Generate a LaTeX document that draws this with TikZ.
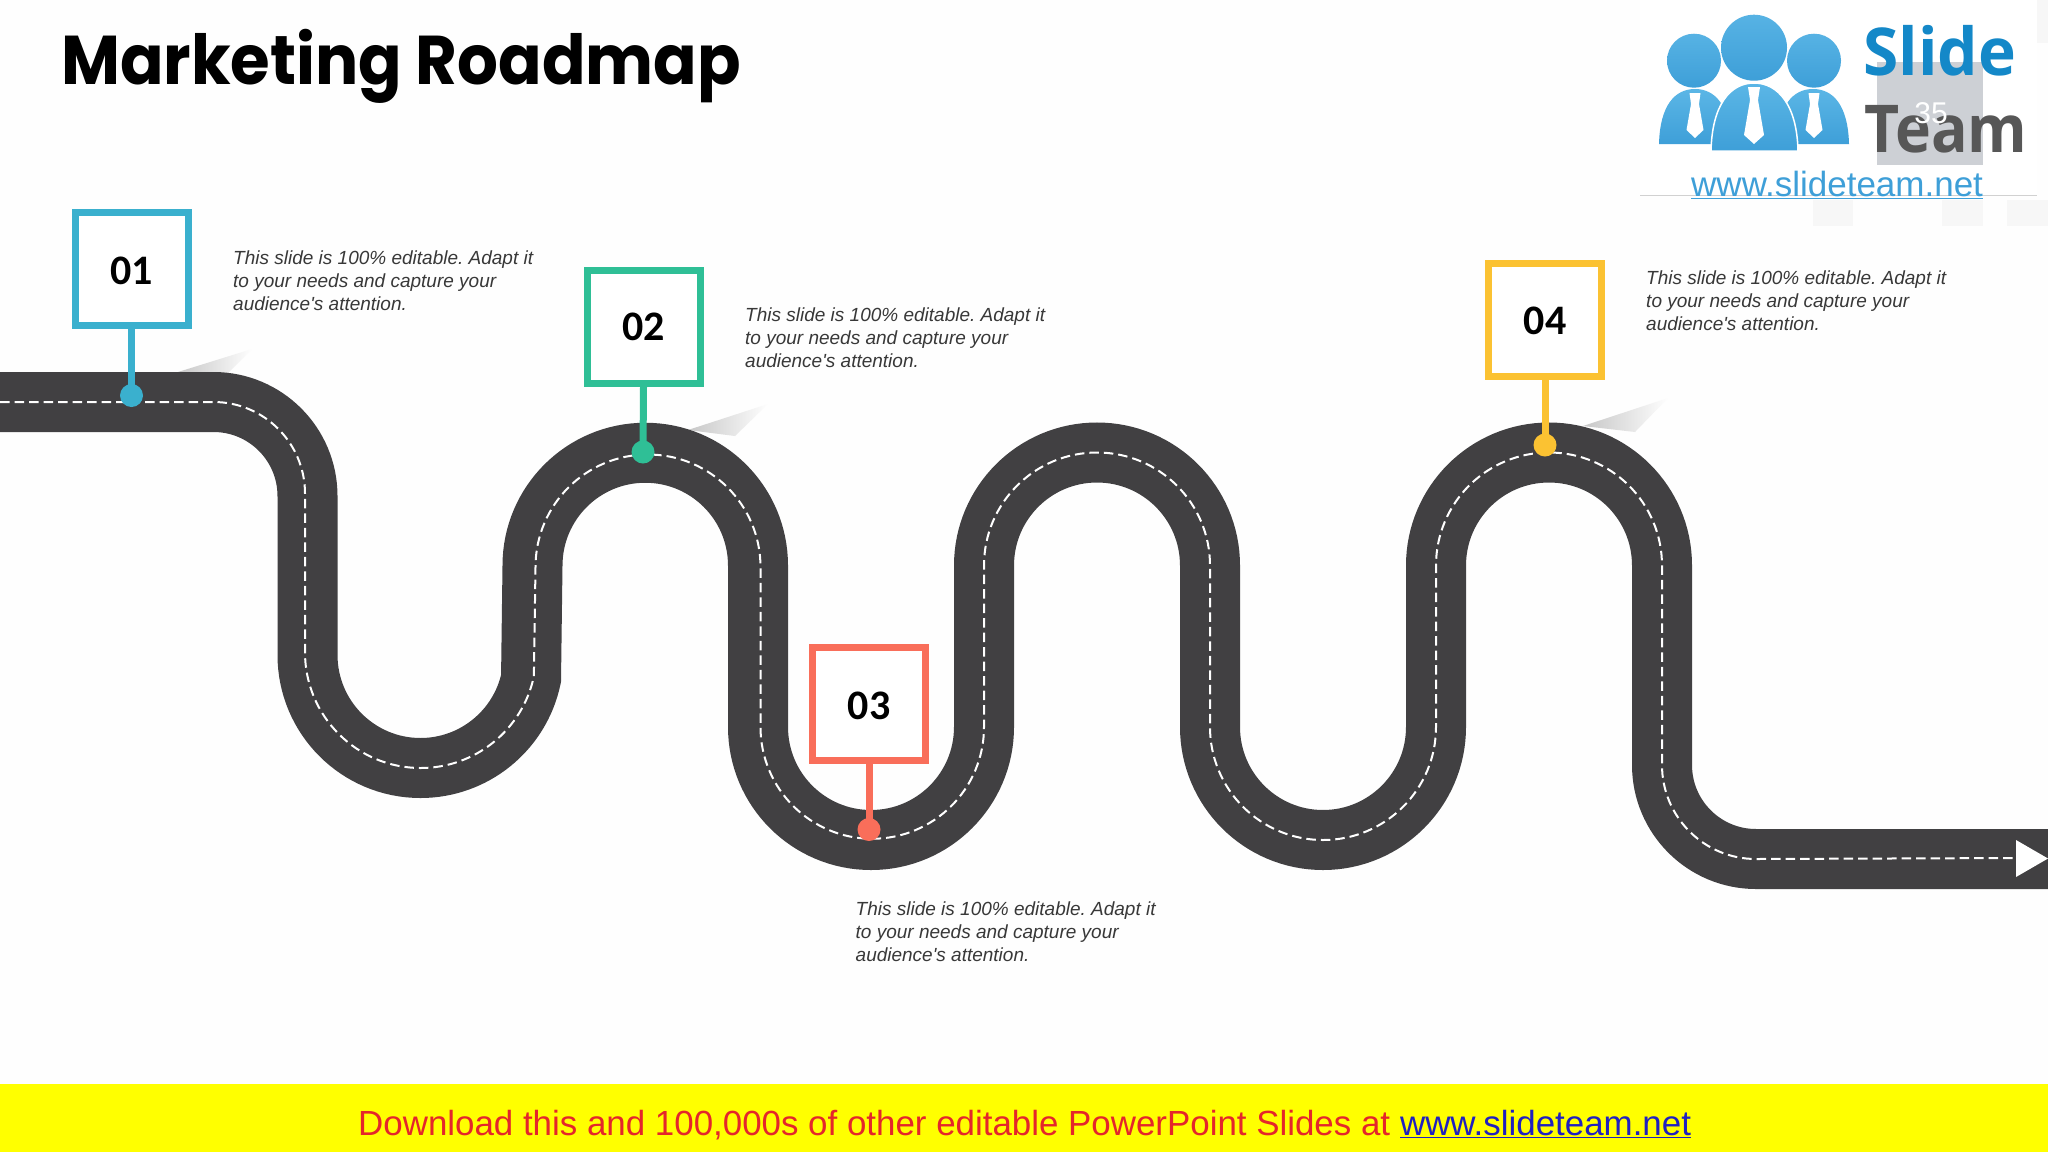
\documentclass[tikz,border=0pt]{standalone}
\usepackage{fontspec}
\setmainfont{Liberation Sans}
\newfontfamily\plainfont{Liberation Sans}
\newfontfamily\titlefont{Poppins}
\newfontfamily\numfont{Carlito}
\newfontfamily\logofont{Open Sans}
\definecolor{roadc}{HTML}{414042}
\definecolor{cblue}{HTML}{3AB0CE}
\definecolor{cgreen}{HTML}{2FBF96}
\definecolor{ccoral}{HTML}{F96E5A}
\definecolor{cyellow}{HTML}{FBC232}
\definecolor{logoa}{HTML}{5BB6E6}
\definecolor{logob}{HTML}{3E9FD8}
\definecolor{barc}{HTML}{FFFF00}
\definecolor{bgc}{HTML}{FEFEFE}
\definecolor{footred}{HTML}{E4262B}
\definecolor{footblue}{HTML}{2020C0}
\definecolor{squarec}{HTML}{CDD0D5}
\newcommand\roadpath{(0,402) -- (213.5,402) arc[start angle=90,end angle=0,radius=94pt] -- (307.5,655)
  arc[start angle=180,end angle=348,radius=113pt] -- (532.5,565.5)
  arc[start angle=180,end angle=0,radius=112.75pt] -- (758,727)
  arc[start angle=180,end angle=360,radius=113pt] -- (984,565.5)
  arc[start angle=180,end angle=0,radius=113pt] -- (1210,727)
  arc[start angle=180,end angle=360,radius=113pt] -- (1436,565.5)
  arc[start angle=180,end angle=0,radius=113pt] -- (1662,765)
  arc[start angle=180,end angle=270,radius=94pt]}
\newcommand\midpath{(0,402) -- (213.5,402) arc[start angle=90,end angle=0,radius=91.5pt] -- (305,652.3)
  arc[start angle=180,end angle=348,radius=115.7pt] -- (535.5,567)
  arc[start angle=180,end angle=0,radius=112.5pt] -- (760.5,727)
  arc[start angle=180,end angle=360,radius=111.75pt] -- (984,565.5)
  arc[start angle=180,end angle=0,radius=113pt] -- (1210,727)
  arc[start angle=180,end angle=360,radius=113pt] -- (1436,565.5)
  arc[start angle=180,end angle=0,radius=113pt] -- (1662,765)
  arc[start angle=180,end angle=270,radius=94pt]}
\newcommand\logotie[1]{\fill[white] (#1-5.5,93) -- (#1+5.5,93) -- (#1+4,104) -- (#1+8.5,130) -- (#1,138) -- (#1-8.5,130) -- (#1-4,104) -- cycle;}
\newcommand\blurbtext{This slide is 100\% editable. Adapt it\\to your needs and capture your\\audience's attention.}
\tikzset{
  x=1pt,y=-1pt,
  road/.style={draw=roadc,line width=60pt},
  midline/.style={draw=white,line width=2pt,dash pattern=on 9.5pt off 5pt},
  flagbox/.style={draw=#1,line width=7pt,fill=white,minimum size=113pt,inner sep=0pt,text depth=0pt,
    font=\numfont\bfseries\fontsize{42}{42}\selectfont,text=black},
  flagdot/.style={circle,fill=#1,minimum size=23pt,inner sep=0pt},
  stem/.style={draw=#1,line width=7pt},
  blurb/.style={anchor=north west,inner sep=0pt,align=left,text=black!78,
    font=\plainfont\itshape\frenchspacing\fontsize{19}{23}\selectfont},
  wedge/.style={left color=black!22,right color=bgc,draw=none},
  logohead/.style={top color=logoa!85!logob,bottom color=logob},
  logobody/.style={top color=logoa,bottom color=logob}
}
\begin{document}
\begin{tikzpicture}
\useasboundingbox (0,0) rectangle (2048,1152);
\fill[bgc] (0,0) rectangle (2048,1152);
% faint blocks around logo
\fill[black!3] (1813,200) rectangle (1853,226);
\fill[black!3] (1942,200) rectangle (1983,226);
\fill[black!3] (2007,200) rectangle (2048,226);
\fill[black!3] (2037,0) rectangle (2048,43);
% title
\node[anchor=base west,inner sep=0pt,font=\titlefont\bfseries\fontsize{69}{69}\selectfont] (title) at (61,84) {\scalebox{.93}[1]{Marketing Roadmap}};
% wedges
\shade[wedge] (178,372) -- (252,349) -- (225,376) -- cycle;
\shade[wedge] (688,430) -- (768,404) -- (735,436) -- cycle;
\shade[wedge] (1583,426) -- (1668,398) -- (1635,432) -- cycle;
% road
\draw[road] \roadpath -- (2048,859);
\draw[midline] \midpath -- (2020,858);
\fill[white] (2016,840) -- (2048,858.5) -- (2016,877) -- cycle;
% flags
\node[flagbox=cblue,text height=30pt] (b1) at (131.5,269) {01};
\node[flagdot=cblue] (d1) at (131.5,395.5) {};
\draw[stem=cblue] (b1.south) -- (d1.center);
\node[flagbox=cgreen,text height=27pt] (b2) at (643.5,326.5) {02};
\node[flagdot=cgreen] (d2) at (643,452) {};
\draw[stem=cgreen] (b2.south) -- (d2.center);
\node[flagbox=ccoral,text height=30pt] (b3) at (869,704) {03};
\node[flagdot=ccoral] (d3) at (869,829.5) {};
\draw[stem=ccoral] (b3.south) -- (d3.center);
\node[flagbox=cyellow,text height=28pt] (b4) at (1545,320) {04};
\node[flagdot=cyellow] (d4) at (1545,445) {};
\draw[stem=cyellow] (b4.south) -- (d4.center);
% text
\node[blurb] (t1) at (233,251) {\blurbtext};
\node[blurb] (t2) at (745,308) {\blurbtext};
\node[blurb] (t3) at (855.5,902) {\blurbtext};
\node[blurb] (t4) at (1646,271) {\blurbtext};
% logo
\fill[white] (1640,0) rectangle (2037,195);
\draw[black!18,line width=1pt] (1640,195.5) -- (2037,195.5);
\fill[squarec] (1877,62) rectangle (1983,165);
\shade[logohead] (1694,60.7) circle[radius=27pt];
\shade[logohead] (1814,60.7) circle[radius=27pt];
\shade[logobody] (1659,144) .. controls (1660,105) and (1675,89) .. (1695,89) .. controls (1715,89) and (1730,105) .. (1731,144) -- cycle;
\shade[logobody] (1849,144) .. controls (1848,105) and (1833,89) .. (1813,89) .. controls (1793,89) and (1778,105) .. (1777,144) -- cycle;
\logotie{1695}
\logotie{1814}
\draw[white,line width=1.5pt,top color=logoa,bottom color=logob] (1711,151) .. controls (1712,105) and (1730,83) .. (1754,83) .. controls (1778,83) and (1797,105) .. (1798,151) -- cycle;
\fill[white] (1748,87) -- (1760,87) -- (1758,100) -- (1764,135) -- (1754,144) -- (1744,135) -- (1750,100) -- cycle;
\shade[logohead] (1754,47.7) circle[radius=33pt];
\node[anchor=base west,inner sep=0pt,text={rgb,255:red,20;green,136;blue,200},font=\logofont\bfseries\fontsize{66}{66}\selectfont] (slide) at (1863,75) {\scalebox{.97}[1]{Slide}};
\node[anchor=base west,inner sep=0pt,text=black!66,font=\logofont\bfseries\fontsize{66}{66}\selectfont] (team) at (1864,152) {\scalebox{.92}[1]{Team}};
\node[inner sep=0pt,text=white,font=\fontsize{30}{30}\selectfont] (pg) at (1931,113) {35};
\node[anchor=base west,inner sep=0pt,text=logob,font=\fontsize{35}{35}\selectfont] (url) at (1691,196) {\underline{www.slideteam.net}};
% footer
\fill[barc] (0,1084) rectangle (2048,1152);
\node[anchor=base west,inner sep=0pt,font=\fontsize{34.9}{36}\selectfont,text=footred] (foot) at (358,1135) {Download this and 100,000s of other editable PowerPoint Slides at \textcolor{footblue}{\underline{www.slideteam.net}}};
\end{tikzpicture}
\end{document}
